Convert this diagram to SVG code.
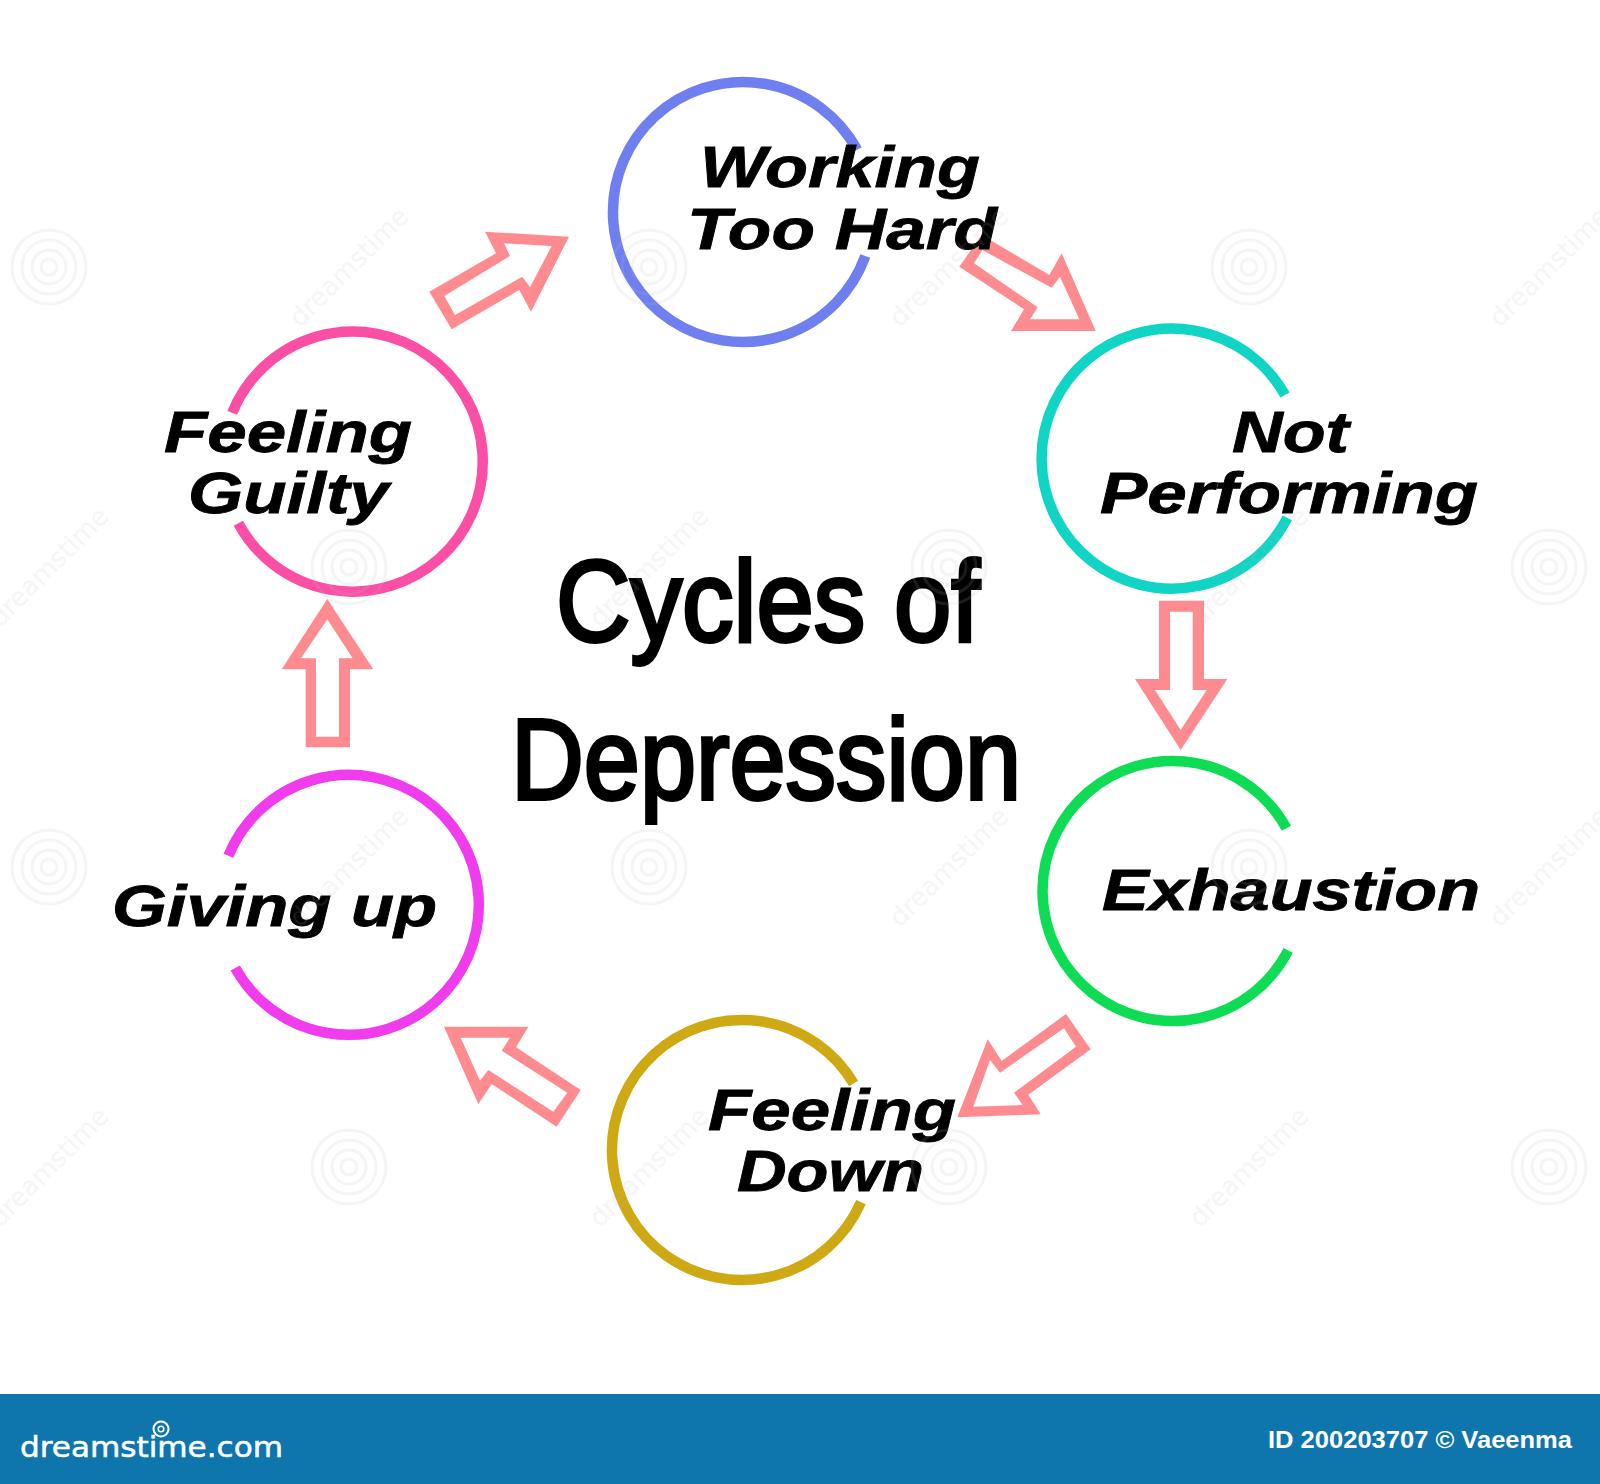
<svg xmlns="http://www.w3.org/2000/svg" xmlns:xlink="http://www.w3.org/1999/xlink" width="1600" height="1484" viewBox="0 0 1600 1484">
<style>
.ring{fill:none;stroke-width:10.5}
.lbl{font-family:"Liberation Sans",Arial,sans-serif;font-weight:700;font-style:italic;font-size:57px;fill:#000;stroke:#000;stroke-width:0.8}
.title{font-family:"Liberation Sans",Arial,sans-serif;font-size:115px;fill:#000;stroke:#000;stroke-width:3.8}
.arrow{fill:#fd8b8f;fill-rule:evenodd}
.wm{fill:none;stroke:#bbb;stroke-width:3}
.wmt{font-family:"DejaVu Sans",sans-serif;font-size:26px;fill:#bbb}
.foot{font-family:"Liberation Sans",Arial,sans-serif;font-weight:700;font-size:24px;fill:#fff}
.logo{font-family:"DejaVu Sans",sans-serif;font-size:28px;fill:#fff;stroke:#fff;stroke-width:0.5}
</style>
<defs>
<g id="spiral"><circle class="wm" r="37"/><circle class="wm" r="27"/><circle class="wm" r="17"/><circle class="wm" r="8"/></g>
<g id="mark" transform="rotate(-45)"><text class="wmt" x="-78" y="9" textLength="156" lengthAdjust="spacingAndGlyphs">dreamstime</text></g>
</defs>
<rect width="1600" height="1484" fill="#fff"/>
<g id="connectors">
<path class="arrow" d="M429.3 291.7L496 253.3L485 231.7L569 236.7L531 311.7L519.3 290L451.7 329.3ZM444.3 296L455 315L522.3 276.7L530 287.3L551.7 246L504 243.3L510 256Z"/>
<path class="arrow" d="M959.3 266.7L981.7 235L1049.3 275L1061.7 253.3L1095.7 331L1011 331L1024 309.3ZM974 263.3L1037.7 307.3L1030 319.3L1079.3 319.3L1060 276.7L1051.7 287.7L982.3 250Z"/>
<path class="arrow" d="M1159 600.7H1204V679H1227.3L1180.7 750L1135 679H1159ZM1170 611.7V690H1155L1180.7 730L1206.7 690H1192.7V611.7Z"/>
<path class="arrow" d="M1066 1014L1090.7 1049.3L1028.3 1094.7L1040.7 1114.3L957.3 1117.3L987.7 1039.3L1001.7 1061ZM1064 1028.3L1000 1072.7L990 1060L973.3 1106.7L1022.7 1105L1014 1092.7L1076 1046.7Z"/>
<path class="arrow" d="M444 1026.7H528.3L516 1047.3L580.7 1090L556.7 1126.7L491.7 1084L478.3 1104ZM460.7 1037.7L480 1080.7L488.3 1070L553.3 1111.7L567.3 1092.7L501.7 1050.7L510 1037.7Z"/>
<path class="arrow" d="M327.3 599L373.3 669.3H350V747.3H305.7V669.3H281.7ZM327.3 619.3L301 658.3H316V736.7H339V658.3H352.7Z"/>
</g>
<g id="node-working">
<path class="ring" stroke="#6f7fef" d="M857.1 149.8A130 130 0 1 0 865.3 256"/>
<text class="lbl" x="700" y="187" textLength="280" lengthAdjust="spacingAndGlyphs">Working</text>
<text class="lbl" x="687" y="249" textLength="310" lengthAdjust="spacingAndGlyphs">Too Hard</text>
</g>
<g id="node-not-performing">
<path class="ring" stroke="#10d5c5" d="M1285 395A130 130 0 1 0 1287.3 517.9"/>
<text class="lbl" x="1232" y="452" textLength="117" lengthAdjust="spacingAndGlyphs">Not</text>
<text class="lbl" x="1100" y="513" textLength="378" lengthAdjust="spacingAndGlyphs">Performing</text>
</g>
<g id="node-exhaustion">
<path class="ring" stroke="#0fdc55" d="M1286.4 828.2A130 130 0 1 0 1288.2 950.3"/>
<text class="lbl" x="1102" y="910" textLength="378" lengthAdjust="spacingAndGlyphs">Exhaustion</text>
</g>
<g id="node-feeling-down">
<path class="ring" stroke="#cfa914" d="M853.7 1083.5A130 130 0 1 0 861 1202.2"/>
<text class="lbl" x="708" y="1130" textLength="248" lengthAdjust="spacingAndGlyphs">Feeling</text>
<text class="lbl" x="737" y="1191" textLength="187" lengthAdjust="spacingAndGlyphs">Down</text>
</g>
<g id="node-giving-up">
<path class="ring" stroke="#f03cec" d="M228.4 855.8A130 130 0 1 1 235.2 968"/>
<text class="lbl" x="112" y="926" textLength="325" lengthAdjust="spacingAndGlyphs">Giving up</text>
</g>
<g id="node-feeling-guilty">
<path class="ring" stroke="#fb4fa5" d="M232.2 412.9A130 130 0 1 1 238.3 523.3"/>
<text class="lbl" x="164" y="452" textLength="248" lengthAdjust="spacingAndGlyphs">Feeling</text>
<text class="lbl" x="188" y="513" textLength="201" lengthAdjust="spacingAndGlyphs">Guilty</text>
</g>
<g id="title">
<text class="title" x="556" y="641" textLength="424" lengthAdjust="spacingAndGlyphs">Cycles of</text>
<text class="title" x="511" y="799" textLength="510" lengthAdjust="spacingAndGlyphs">Depression</text>
</g>
<g id="watermark" opacity="0.15">
<use xlink:href="#spiral" x="49" y="267"/><use xlink:href="#spiral" x="649" y="267"/><use xlink:href="#spiral" x="1249" y="267"/>
<use xlink:href="#spiral" x="349" y="567"/><use xlink:href="#spiral" x="949" y="567"/><use xlink:href="#spiral" x="1549" y="567"/>
<use xlink:href="#spiral" x="49" y="867"/><use xlink:href="#spiral" x="649" y="867"/><use xlink:href="#spiral" x="1249" y="867"/>
<use xlink:href="#spiral" x="349" y="1167"/><use xlink:href="#spiral" x="949" y="1167"/><use xlink:href="#spiral" x="1549" y="1167"/>
<use xlink:href="#mark" x="349" y="267"/><use xlink:href="#mark" x="949" y="267"/><use xlink:href="#mark" x="1549" y="267"/>
<use xlink:href="#mark" x="49" y="567"/><use xlink:href="#mark" x="649" y="567"/><use xlink:href="#mark" x="1249" y="567"/>
<use xlink:href="#mark" x="349" y="867"/><use xlink:href="#mark" x="949" y="867"/><use xlink:href="#mark" x="1549" y="867"/>
<use xlink:href="#mark" x="49" y="1167"/><use xlink:href="#mark" x="649" y="1167"/><use xlink:href="#mark" x="1249" y="1167"/>
</g>
<g id="footer">
<rect x="0" y="1394" width="1600" height="90" fill="#0e76ad"/>
<text class="logo" x="20" y="1457" textLength="263" lengthAdjust="spacingAndGlyphs">dreamstime.com</text>
<circle cx="161" cy="1429" r="7.5" fill="none" stroke="#fff" stroke-width="2"/><circle cx="161" cy="1429" r="2.8" fill="none" stroke="#fff" stroke-width="1.5"/>
<text class="foot" x="1268" y="1448" textLength="304" lengthAdjust="spacingAndGlyphs">ID 200203707 © Vaeenma</text>
</g>
</svg>
